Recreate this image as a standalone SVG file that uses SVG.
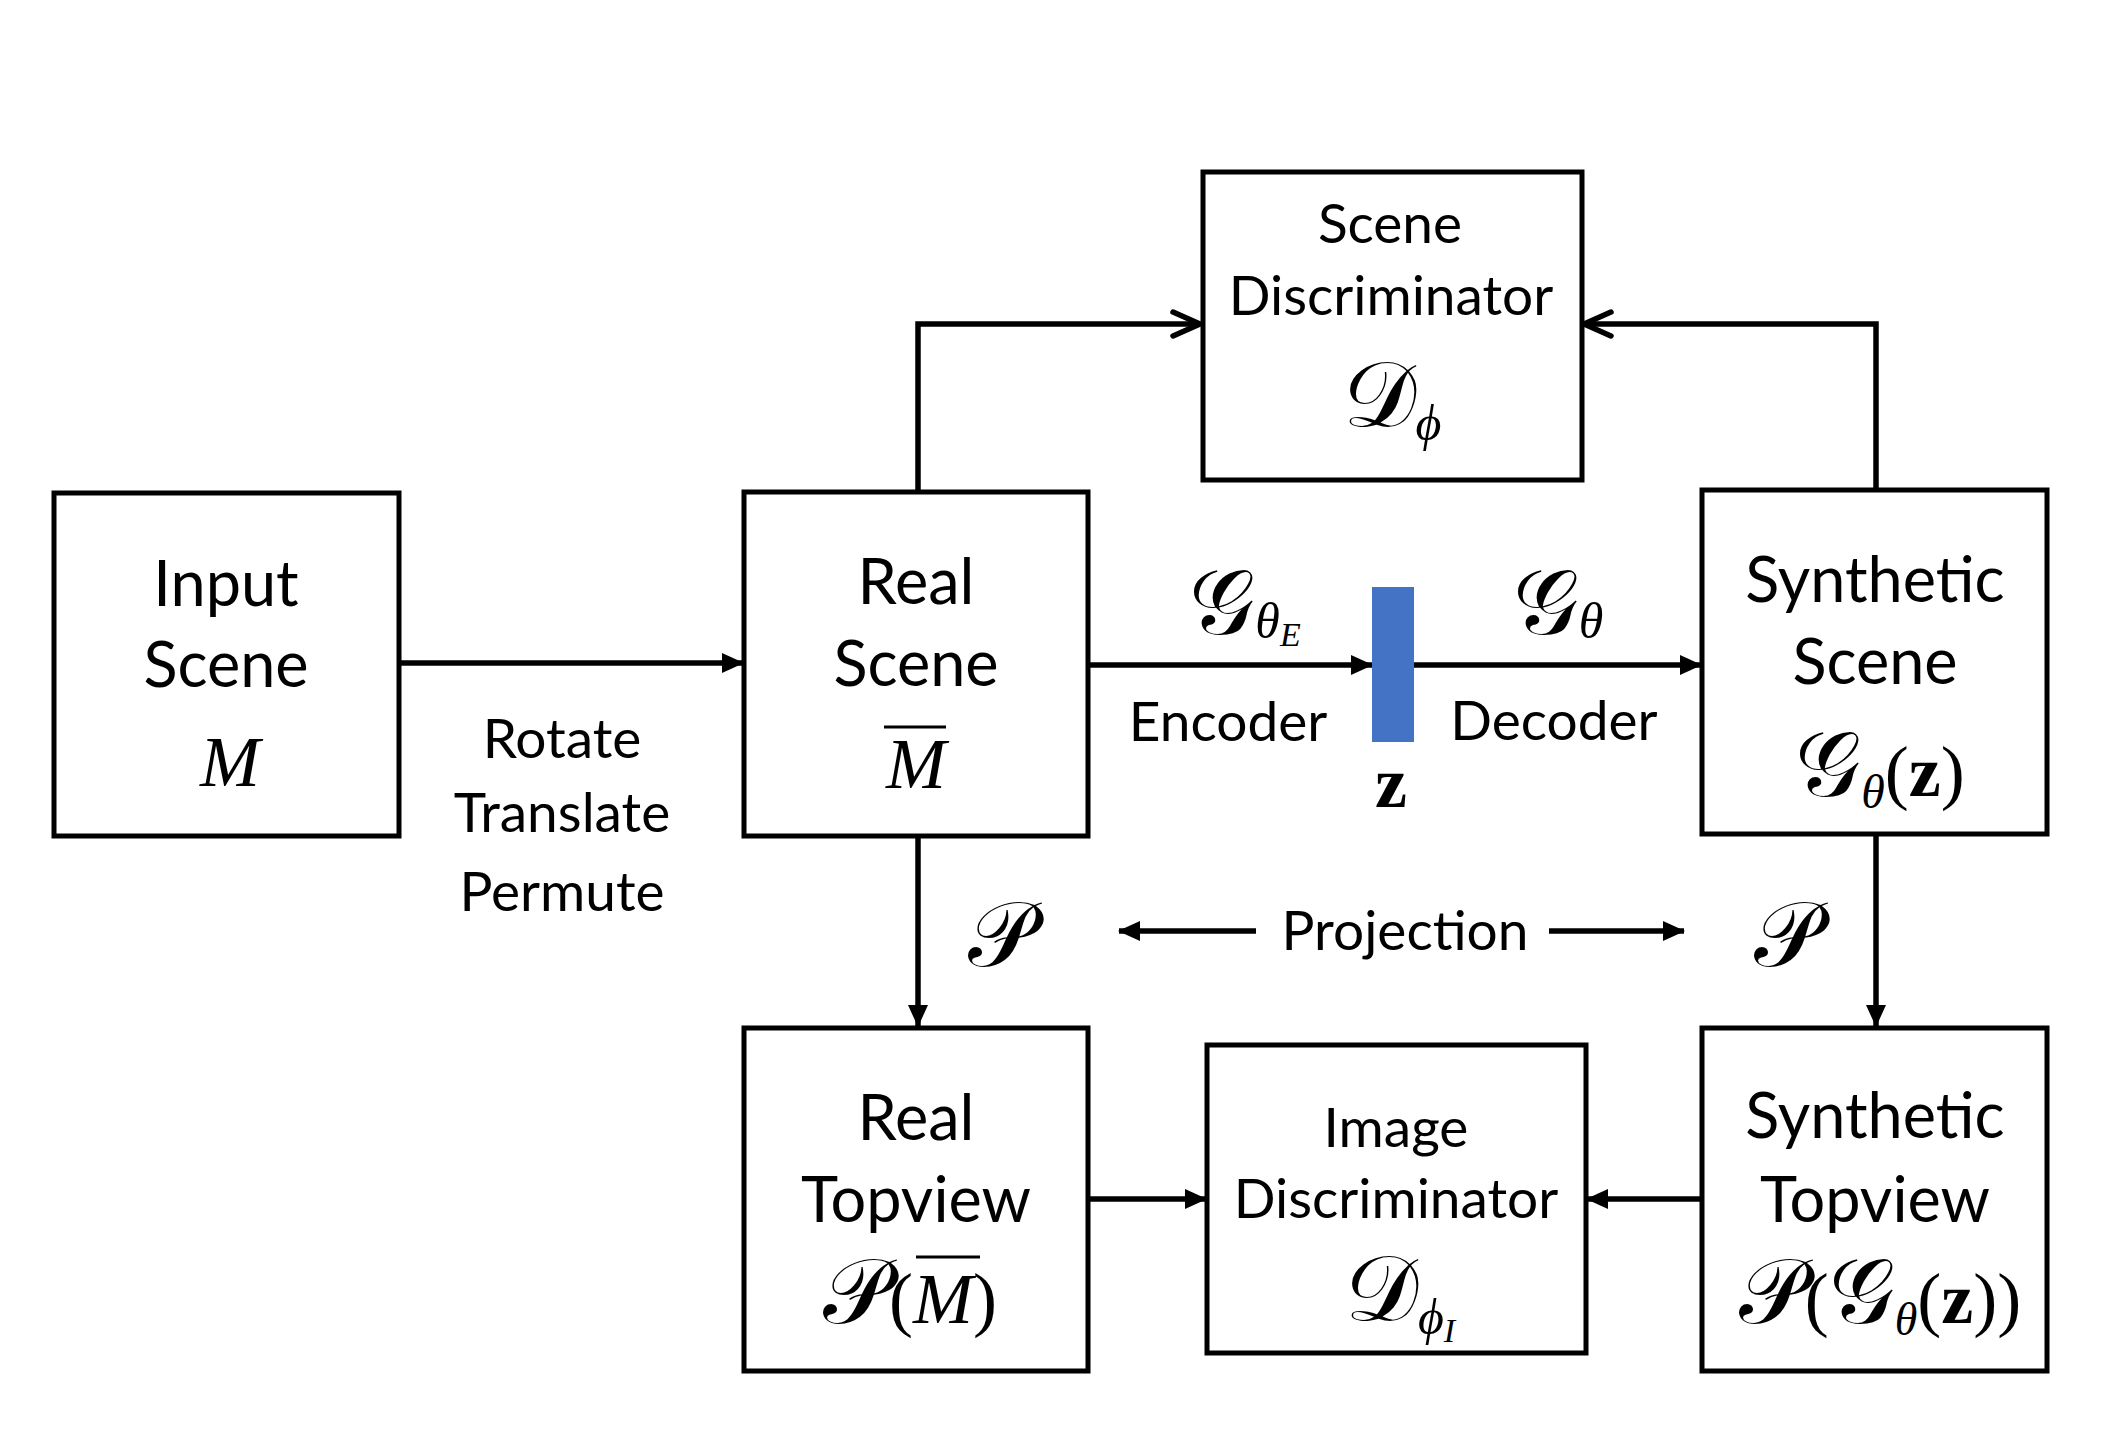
<svg xmlns="http://www.w3.org/2000/svg" width="2107" height="1440" viewBox="0 0 2107 1440">
<style>
.box{fill:#fff;stroke:#000;stroke-width:5}
.lb{font-family:Lato,"Open Sans",sans-serif;font-size:63px;text-anchor:middle;fill:#000}
.sm{font-size:55px}
.mi{font-family:"Liberation Serif",serif;font-style:italic;font-size:72px;text-anchor:middle;fill:#000}
.cal{font-family:"DejaVu Serif","DejaVu Sans","Liberation Serif",serif;font-style:normal;font-size:1.28em}
.gr{font-family:"Liberation Serif","DejaVu Serif",serif;font-style:italic}
.rm{font-family:"Liberation Serif",serif;font-style:normal}
.bz{font-family:"Liberation Serif",serif;font-style:normal;font-weight:bold}
.ln{fill:none;stroke:#000;stroke-width:5.5}
.ov{stroke:#000;stroke-width:3}
</style>
<defs>
<marker id="tri" viewBox="0 0 22 20" refX="21" refY="10" markerWidth="22" markerHeight="20" markerUnits="userSpaceOnUse" orient="auto"><path d="M0,0 L22,10 L0,20 Z" fill="#000"/></marker>
<marker id="chev" viewBox="-32 -16 36 32" refX="0" refY="0" markerWidth="36" markerHeight="32" markerUnits="userSpaceOnUse" orient="auto"><path d="M-27,-12 L0,0 L-27,12" fill="none" stroke="#000" stroke-width="5.5" stroke-linecap="round" stroke-linejoin="round"/></marker>
</defs>
<rect width="2107" height="1440" fill="#fff"/>

<g id="connectors">
<line class="ln" x1="399" y1="663" x2="743" y2="663" marker-end="url(#tri)"/>
<line class="ln" x1="1088" y1="665" x2="1372" y2="665" marker-end="url(#tri)"/>
<line class="ln" x1="1414" y1="665" x2="1701" y2="665" marker-end="url(#tri)"/>
<polyline class="ln" points="918,492 918,324 1200,324" marker-end="url(#chev)"/>
<polyline class="ln" points="1876,490 1876,324 1584,324" marker-end="url(#chev)"/>
<line class="ln" x1="918" y1="836" x2="918" y2="1026" marker-end="url(#tri)"/>
<line class="ln" x1="1876" y1="834" x2="1876" y2="1026" marker-end="url(#tri)"/>
<line class="ln" x1="1088" y1="1199" x2="1206" y2="1199" marker-end="url(#tri)"/>
<line class="ln" x1="1702" y1="1199" x2="1587" y2="1199" marker-end="url(#tri)"/>
<line class="ln" x1="1256" y1="931" x2="1119" y2="931" marker-end="url(#tri)"/>
<line class="ln" x1="1549" y1="931" x2="1684" y2="931" marker-end="url(#tri)"/>
</g>

<g id="input-scene">
<rect class="box" x="54" y="493" width="345" height="343"/>
<text class="lb" x="226" y="606">Input</text>
<text class="lb" x="226" y="687">Scene</text>
<text class="mi" x="230" y="786">M</text>
</g>

<g id="real-scene">
<rect class="box" x="744" y="492" width="344" height="344"/>
<text class="lb" x="916" y="604">Real</text>
<text class="lb" x="916" y="686">Scene</text>
<line class="ov" x1="884" y1="727" x2="946" y2="727"/>
<text class="mi" x="916" y="788">M</text>
</g>

<g id="scene-discriminator">
<rect class="box" x="1203" y="172" width="379" height="308"/>
<text class="lb sm" x="1390" y="243">Scene</text>
<text class="lb sm" x="1391" y="315">Discriminator</text>
<text class="mi" x="1392" y="426"><tspan class="cal">𝒟</tspan><tspan class="gr" font-size="50" dy="14">ϕ</tspan></text>
</g>

<g id="latent-z">
<rect x="1372" y="587" width="42" height="155" fill="#4472C4"/>
<text class="mi" x="1391" y="807" font-size="58"><tspan class="bz">z</tspan></text>
</g>

<g id="synthetic-scene">
<rect class="box" x="1702" y="490" width="345" height="344"/>
<text class="lb" x="1875" y="602">Synthetic</text>
<text class="lb" x="1875" y="684">Scene</text>
<text class="mi" x="1880" y="796" font-size="70"><tspan class="cal">𝒢</tspan><tspan class="gr" font-size="48" dy="12">θ</tspan><tspan class="rm" dy="-12">(</tspan><tspan class="bz">z</tspan><tspan class="rm">)</tspan></text>
</g>

<g id="real-topview">
<rect class="box" x="744" y="1028" width="344" height="343"/>
<text class="lb" x="916" y="1140">Real</text>
<text class="lb" x="916" y="1222">Topview</text>
<line class="ov" x1="916" y1="1257" x2="980" y2="1257"/>
<text class="mi" x="910" y="1323" font-size="70"><tspan class="cal">𝒫</tspan><tspan class="rm">(</tspan><tspan font-size="72">M</tspan><tspan class="rm">)</tspan></text>
</g>

<g id="image-discriminator">
<rect class="box" x="1207" y="1045" width="379" height="308"/>
<text class="lb sm" x="1396" y="1147">Image</text>
<text class="lb sm" x="1396" y="1218">Discriminator</text>
<text class="mi" x="1400" y="1320"><tspan class="cal">𝒟</tspan><tspan class="gr" font-size="50" dy="14">ϕ</tspan><tspan class="gr" font-size="34" dy="8">I</tspan></text>
</g>

<g id="synthetic-topview">
<rect class="box" x="1702" y="1028" width="345" height="343"/>
<text class="lb" x="1875" y="1138">Synthetic</text>
<text class="lb" x="1875" y="1222">Topview</text>
<text class="mi" x="1880" y="1323" font-size="66"><tspan class="cal">𝒫</tspan><tspan class="rm">(</tspan><tspan class="cal">𝒢</tspan><tspan class="gr" font-size="46" dy="12">θ</tspan><tspan class="rm" dy="-12">(</tspan><tspan class="bz">z</tspan><tspan class="rm">))</tspan></text>
</g>

<g id="edge-labels">
<text class="lb sm" x="562" y="758">Rotate</text>
<text class="lb sm" x="562" y="832">Translate</text>
<text class="lb sm" x="562" y="911">Permute</text>
<text class="lb sm" x="1228" y="741">Encoder</text>
<text class="lb sm" x="1554" y="740">Decoder</text>
<text class="lb sm" x="1405" y="950">Projection</text>
<text class="mi" x="1001" y="966"><tspan class="cal">𝒫</tspan></text>
<text class="mi" x="1787" y="966"><tspan class="cal">𝒫</tspan></text>
<text class="mi" x="1245" y="634"><tspan class="cal">𝒢</tspan><tspan class="gr" font-size="50" dy="4">θ</tspan><tspan class="gr" font-size="34" dy="8">E</tspan></text>
<text class="mi" x="1558" y="634"><tspan class="cal">𝒢</tspan><tspan class="gr" font-size="50" dy="4">θ</tspan></text>
</g>
</svg>
